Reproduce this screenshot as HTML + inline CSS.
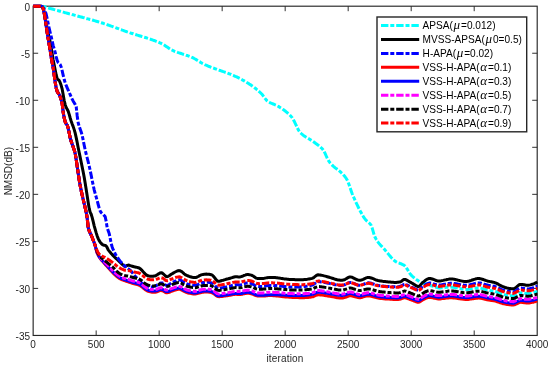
<!DOCTYPE html>
<html><head><meta charset="utf-8"><title>NMSD plot</title>
<style>html,body{margin:0;padding:0;background:#fff}svg{display:block}</style></head>
<body>
<svg width="550" height="366" viewBox="0 0 550 366">
<rect width="550" height="366" fill="#fff"/>
<g stroke="#262626" stroke-width="1.15" fill="none">
<rect x="33.15" y="6.2" width="504.05" height="329.25"/>
<path stroke-width="0.95" d="M96.16 335.45 v-5 M96.16 6.2 v5"/>
<path stroke-width="0.95" d="M159.16 335.45 v-5 M159.16 6.2 v5"/>
<path stroke-width="0.95" d="M222.17 335.45 v-5 M222.17 6.2 v5"/>
<path stroke-width="0.95" d="M285.18 335.45 v-5 M285.18 6.2 v5"/>
<path stroke-width="0.95" d="M348.18 335.45 v-5 M348.18 6.2 v5"/>
<path stroke-width="0.95" d="M411.19 335.45 v-5 M411.19 6.2 v5"/>
<path stroke-width="0.95" d="M474.19 335.45 v-5 M474.19 6.2 v5"/>
<path stroke-width="0.95" d="M33.15 53.24 h5 M537.2 53.24 h-5"/>
<path stroke-width="0.95" d="M33.15 100.27 h5 M537.2 100.27 h-5"/>
<path stroke-width="0.95" d="M33.15 147.31 h5 M537.2 147.31 h-5"/>
<path stroke-width="0.95" d="M33.15 194.34 h5 M537.2 194.34 h-5"/>
<path stroke-width="0.95" d="M33.15 241.38 h5 M537.2 241.38 h-5"/>
<path stroke-width="0.95" d="M33.15 288.41 h5 M537.2 288.41 h-5"/>
</g>
<clipPath id="c"><rect x="32.55" y="4.2" width="505.25" height="331.25"/></clipPath>
<g clip-path="url(#c)" fill="none" stroke-linejoin="round">
<path d="M33.2 6.2 L34.2 6.2 L35.2 6.2 L36.2 6.2 L37.2 6.2 L38.2 6.2 L39.2 6.2 L40.2 6.2 L41.2 6.2 L42.2 6.2 L43.2 6.4 L44.2 6.8 L45.2 7.0 L46.2 7.3 L47.2 7.6 L48.2 7.9 L49.2 8.2 L50.2 8.5 L51.2 8.7 L52.2 9.0 L53.2 9.3 L54.2 9.6 L55.2 9.9 L56.2 10.2 L57.2 10.4 L58.2 10.7 L59.2 11.0 L60.2 11.3 L61.2 11.6 L62.2 11.8 L63.2 12.1 L64.2 12.4 L65.2 12.7 L66.2 12.9 L67.2 13.2 L68.2 13.5 L69.2 13.8 L70.2 14.0 L71.2 14.3 L72.2 14.6 L73.2 14.8 L74.2 15.1 L75.2 15.4 L76.2 15.7 L77.2 15.9 L78.2 16.2 L79.2 16.5 L80.2 16.8 L81.2 17.0 L82.2 17.3 L83.2 17.6 L84.2 17.8 L85.2 18.1 L86.2 18.4 L87.2 18.7 L88.2 18.9 L89.2 19.2 L90.2 19.5 L91.2 19.7 L92.2 20.0 L93.2 20.3 L94.2 20.6 L95.2 20.9 L96.2 21.2 L97.2 21.5 L98.2 21.8 L99.2 22.1 L100.2 22.4 L101.2 22.7 L102.2 23.0 L103.2 23.3 L104.2 23.7 L105.2 24.0 L106.2 24.3 L107.2 24.7 L108.2 25.0 L109.2 25.4 L110.2 25.7 L111.2 26.1 L112.2 26.4 L113.2 26.8 L114.2 27.2 L115.2 27.5 L116.2 27.9 L117.2 28.3 L118.2 28.6 L119.2 29.0 L120.2 29.4 L121.2 29.7 L122.2 30.1 L123.2 30.4 L124.2 30.8 L125.2 31.2 L126.2 31.5 L127.2 31.9 L128.2 32.2 L129.2 32.5 L130.2 32.9 L131.2 33.2 L132.2 33.5 L133.2 33.8 L134.2 34.2 L135.2 34.5 L136.2 34.8 L137.2 35.1 L138.2 35.4 L139.2 35.7 L140.2 36.0 L141.2 36.3 L142.2 36.6 L143.2 36.9 L144.2 37.2 L145.2 37.5 L146.2 37.8 L147.2 38.1 L148.2 38.4 L149.2 38.8 L150.2 39.1 L151.2 39.5 L152.2 39.8 L153.2 40.2 L154.2 40.5 L155.2 40.9 L156.2 41.3 L157.2 41.7 L158.2 42.1 L159.2 42.5 L160.2 43.0 L161.2 43.4 L162.2 43.9 L163.2 44.4 L164.2 45.0 L165.2 45.7 L166.2 46.4 L167.2 47.1 L168.2 47.8 L169.2 48.5 L170.2 49.2 L171.2 49.7 L172.2 50.2 L173.2 50.6 L174.2 51.1 L175.2 51.5 L176.2 51.8 L177.2 52.2 L178.2 52.6 L179.2 52.9 L180.2 53.2 L181.2 53.5 L182.2 53.9 L183.2 54.2 L184.2 54.5 L185.2 54.8 L186.2 55.2 L187.2 55.5 L188.2 55.9 L189.2 56.2 L190.2 56.6 L191.2 57.0 L192.2 57.5 L193.2 57.9 L194.2 58.5 L195.2 59.0 L196.2 59.6 L197.2 60.2 L198.2 60.8 L199.2 61.5 L200.2 62.1 L201.2 62.7 L202.2 63.3 L203.2 63.8 L204.2 64.3 L205.2 64.8 L206.2 65.2 L207.2 65.6 L208.2 66.1 L209.2 66.5 L210.2 66.9 L211.2 67.3 L212.2 67.7 L213.2 68.0 L214.2 68.4 L215.2 68.8 L216.2 69.1 L217.2 69.5 L218.2 69.8 L219.2 70.2 L220.2 70.5 L221.2 70.9 L222.2 71.2 L223.2 71.6 L224.2 71.9 L225.2 72.3 L226.2 72.6 L227.2 73.0 L228.2 73.4 L229.2 73.8 L230.2 74.1 L231.2 74.5 L232.2 75.0 L233.2 75.4 L234.2 75.8 L235.2 76.3 L236.2 76.7 L237.2 77.2 L238.2 77.7 L239.2 78.2 L240.2 78.7 L241.2 79.2 L242.2 79.8 L243.2 80.3 L244.2 80.9 L245.2 81.5 L246.2 82.1 L247.2 82.7 L248.2 83.3 L249.2 84.0 L250.2 84.6 L251.2 85.3 L252.2 86.0 L253.2 86.7 L254.2 87.5 L255.2 88.2 L256.2 89.0 L257.2 89.9 L258.2 90.7 L259.2 91.6 L260.2 92.5 L261.2 93.5 L262.2 94.5 L263.2 95.8 L264.2 97.2 L265.2 98.6 L266.2 99.9 L267.2 100.9 L268.2 101.6 L269.2 102.2 L270.2 102.8 L271.2 103.2 L272.2 103.6 L273.2 104.0 L274.2 104.4 L275.2 104.9 L276.2 105.3 L277.2 105.8 L278.2 106.3 L279.2 106.9 L280.2 107.6 L281.2 108.2 L282.2 108.9 L283.2 109.6 L284.2 110.3 L285.2 111.0 L286.2 111.8 L287.2 112.7 L288.2 113.6 L289.2 114.5 L290.2 115.5 L291.2 116.6 L292.2 117.8 L293.2 119.3 L294.2 121.2 L295.2 123.3 L296.2 125.4 L297.2 127.6 L298.2 129.6 L299.2 131.2 L300.2 132.5 L301.2 133.5 L302.2 134.4 L303.2 135.2 L304.2 135.9 L305.2 136.6 L306.2 137.2 L307.2 137.8 L308.2 138.4 L309.2 139.0 L310.2 139.6 L311.2 140.2 L312.2 140.8 L313.2 141.5 L314.2 142.3 L315.2 143.0 L316.2 143.8 L317.2 144.5 L318.2 145.2 L319.2 146.0 L320.2 146.9 L321.2 147.8 L322.2 148.8 L323.2 150.0 L324.2 151.6 L325.2 153.7 L326.2 156.0 L327.2 158.2 L328.2 160.2 L329.2 161.7 L330.2 163.0 L331.2 164.1 L332.2 165.1 L333.2 166.1 L334.2 167.0 L335.2 167.8 L336.2 168.6 L337.2 169.3 L338.2 170.1 L339.2 170.9 L340.2 171.7 L341.2 172.6 L342.2 173.5 L343.2 174.5 L344.2 175.7 L345.2 177.0 L346.2 178.4 L347.2 180.1 L348.2 182.4 L349.2 185.1 L350.2 188.0 L351.2 190.9 L352.2 193.7 L353.2 196.2 L354.2 198.4 L355.2 200.6 L356.2 202.8 L357.2 204.9 L358.2 207.0 L359.2 209.0 L360.2 211.0 L361.2 212.8 L362.2 214.6 L363.2 216.3 L364.2 217.8 L365.2 219.2 L366.2 220.4 L367.2 221.3 L368.2 222.1 L369.2 223.0 L370.2 224.0 L371.2 225.4 L372.2 228.1 L373.2 231.6 L374.2 235.1 L375.2 237.6 L376.2 239.3 L377.2 240.9 L378.2 242.3 L379.2 243.6 L380.2 244.8 L381.2 245.9 L382.2 246.9 L383.2 248.0 L384.2 249.1 L385.2 250.2 L386.2 251.4 L387.2 252.7 L388.2 253.9 L389.2 255.1 L390.2 256.3 L391.2 257.5 L392.2 258.6 L393.2 259.6 L394.2 260.5 L395.2 261.2 L396.2 261.9 L397.2 262.4 L398.2 262.8 L399.2 263.1 L400.2 263.5 L401.2 263.8 L402.2 264.3 L403.2 264.8 L404.2 265.4 L405.2 266.2 L406.2 267.5 L407.2 269.1 L408.2 270.8 L409.2 272.5 L410.2 274.0 L411.2 275.1 L412.2 276.1 L413.2 277.0 L414.2 277.8 L415.2 278.6 L416.2 279.4 L417.2 280.1 L418.2 280.8 L419.2 281.5 L420.2 282.2 L421.2 282.8 L422.2 283.1 L423.2 283.4 L424.2 283.6 L425.2 283.8 L426.2 284.0 L427.2 284.3 L428.2 284.6 L429.2 285.0 L430.2 285.5 L431.2 285.8 L432.2 286.1 L433.2 286.4 L434.2 286.7 L435.2 287.1 L436.2 287.4 L437.2 287.6 L438.2 287.8 L439.2 287.9 L440.2 287.9 L441.2 287.8 L442.2 287.7 L443.2 287.6 L444.2 287.5 L445.2 287.4 L446.2 287.3 L447.2 287.2 L448.2 287.1 L449.2 287.1 L450.2 287.1 L451.2 287.1 L452.2 287.2 L453.2 287.3 L454.2 287.4 L455.2 287.6 L456.2 287.8 L457.2 288.0 L458.2 288.2 L459.2 288.4 L460.2 288.6 L461.2 288.8 L462.2 289.0 L463.2 289.2 L464.2 289.3 L465.2 289.4 L466.2 289.4 L467.2 289.4 L468.2 289.4 L469.2 289.2 L470.2 289.1 L471.2 288.9 L472.2 288.7 L473.2 288.6 L474.2 288.4 L475.2 288.2 L476.2 288.1 L477.2 288.1 L478.2 288.0 L479.2 288.0 L480.2 288.1 L481.2 288.3 L482.2 288.6 L483.2 288.8 L484.2 289.1 L485.2 289.4 L486.2 289.7 L487.2 290.0 L488.2 290.2 L489.2 290.4 L490.2 290.6 L491.2 290.7 L492.2 290.9 L493.2 291.0 L494.2 291.2 L495.2 291.5 L496.2 291.8 L497.2 292.1 L498.2 292.5 L499.2 292.9 L500.2 293.3 L501.2 293.7 L502.2 294.0 L503.2 294.3 L504.2 294.6 L505.2 294.8 L506.2 295.1 L507.2 295.3 L508.2 295.4 L509.2 295.6 L510.2 295.7 L511.2 295.8 L512.2 295.8 L513.2 295.7 L514.2 295.6 L515.2 295.4 L516.2 294.9 L517.2 294.1 L518.2 293.6 L519.2 293.2 L520.2 292.9 L521.2 292.8 L522.2 292.9 L523.2 293.0 L524.2 293.1 L525.2 293.3 L526.2 293.4 L527.2 293.5 L528.2 293.4 L529.2 293.3 L530.2 293.2 L531.2 293.1 L532.2 292.8 L533.2 292.6 L534.2 292.3 L535.2 292.0 L536.2 291.6 L537.2 291.2 L537.3 291.2" stroke="#00ffff" stroke-width="3.0" stroke-dasharray="7.4 1.9 4 1.9"/>
<path d="M33.2 6.2 L34.2 6.2 L35.2 6.2 L36.2 6.2 L37.2 6.2 L38.2 6.2 L39.2 6.2 L40.2 6.2 L41.2 6.2 L42.2 6.7 L43.2 8.6 L44.2 12.6 L45.2 17.6 L46.2 23.1 L47.2 28.5 L48.2 33.1 L49.2 37.3 L50.2 42.0 L51.2 47.6 L52.2 53.9 L53.2 60.0 L54.2 65.0 L55.2 70.0 L56.2 75.0 L57.2 78.7 L58.2 79.8 L59.2 80.5 L60.2 82.7 L61.2 85.6 L62.2 89.2 L63.2 94.7 L64.2 100.5 L65.2 104.6 L66.2 107.6 L67.2 109.3 L68.2 111.2 L69.2 114.4 L70.2 118.0 L71.2 121.2 L72.2 124.0 L73.2 126.6 L74.2 129.6 L75.2 133.2 L76.2 137.6 L77.2 142.5 L78.2 147.7 L79.2 152.6 L80.2 157.4 L81.2 162.3 L82.2 167.1 L83.2 172.0 L84.2 177.3 L85.2 183.3 L86.2 189.6 L87.2 196.1 L88.2 202.5 L89.2 208.4 L90.2 212.4 L91.2 214.3 L92.2 217.6 L93.2 221.7 L94.2 225.8 L95.2 229.4 L96.2 232.9 L97.2 236.0 L98.2 238.6 L99.2 240.7 L100.2 242.2 L101.2 243.4 L102.2 244.4 L103.2 245.0 L104.2 245.2 L105.2 245.4 L106.2 246.0 L107.2 247.6 L108.2 249.9 L109.2 251.1 L110.2 252.3 L111.2 253.5 L112.2 254.6 L113.2 255.6 L114.2 256.6 L115.2 257.6 L116.2 258.6 L117.2 259.5 L118.2 260.5 L119.2 261.5 L120.2 262.5 L121.2 263.4 L122.2 264.3 L123.2 265.2 L124.2 266.0 L125.2 266.4 L126.2 266.0 L127.2 265.4 L128.2 265.1 L129.2 265.2 L130.2 265.6 L131.2 265.9 L132.2 266.2 L133.2 266.5 L134.2 266.8 L135.2 267.0 L136.2 267.2 L137.2 267.4 L138.2 267.7 L139.2 268.0 L140.2 268.7 L141.2 269.6 L142.2 270.6 L143.2 271.8 L144.2 272.9 L145.2 273.9 L146.2 274.8 L147.2 275.5 L148.2 275.8 L149.2 276.1 L150.2 276.3 L151.2 276.3 L152.2 276.3 L153.2 276.2 L154.2 276.0 L155.2 275.9 L156.2 275.4 L157.2 274.8 L158.2 274.1 L159.2 273.5 L160.2 272.9 L161.2 272.7 L162.2 273.0 L163.2 273.8 L164.2 274.8 L165.2 275.8 L166.2 276.5 L167.2 276.7 L168.2 276.3 L169.2 275.7 L170.2 275.0 L171.2 274.3 L172.2 273.7 L173.2 273.1 L174.2 272.5 L175.2 272.0 L176.2 271.5 L177.2 271.0 L178.2 270.7 L179.2 270.6 L180.2 270.8 L181.2 271.3 L182.2 272.0 L183.2 272.9 L184.2 273.8 L185.2 274.6 L186.2 275.2 L187.2 275.6 L188.2 276.0 L189.2 276.4 L190.2 276.7 L191.2 277.0 L192.2 277.3 L193.2 277.4 L194.2 277.5 L195.2 277.5 L196.2 277.4 L197.2 277.0 L198.2 276.5 L199.2 275.9 L200.2 275.3 L201.2 274.9 L202.2 274.6 L203.2 274.4 L204.2 274.3 L205.2 274.2 L206.2 274.1 L207.2 274.2 L208.2 274.2 L209.2 274.3 L210.2 274.5 L211.2 274.7 L212.2 275.1 L213.2 276.0 L214.2 277.2 L215.2 278.5 L216.2 279.8 L217.2 280.8 L218.2 281.3 L219.2 281.2 L220.2 281.0 L221.2 280.7 L222.2 280.4 L223.2 280.2 L224.2 279.9 L225.2 279.6 L226.2 279.3 L227.2 279.0 L228.2 278.8 L229.2 278.5 L230.2 278.2 L231.2 277.9 L232.2 277.6 L233.2 277.3 L234.2 277.0 L235.2 276.8 L236.2 276.7 L237.2 276.8 L238.2 276.9 L239.2 276.9 L240.2 276.9 L241.2 276.6 L242.2 276.3 L243.2 275.9 L244.2 275.4 L245.2 275.1 L246.2 274.7 L247.2 274.6 L248.2 274.6 L249.2 274.7 L250.2 274.9 L251.2 275.1 L252.2 275.5 L253.2 276.0 L254.2 276.8 L255.2 277.5 L256.2 278.1 L257.2 278.4 L258.2 278.5 L259.2 278.6 L260.2 278.6 L261.2 278.6 L262.2 278.5 L263.2 278.4 L264.2 278.3 L265.2 278.1 L266.2 277.9 L267.2 277.7 L268.2 277.6 L269.2 277.4 L270.2 277.4 L271.2 277.4 L272.2 277.4 L273.2 277.5 L274.2 277.5 L275.2 277.6 L276.2 277.7 L277.2 277.8 L278.2 277.9 L279.2 278.1 L280.2 278.2 L281.2 278.4 L282.2 278.5 L283.2 278.7 L284.2 278.9 L285.2 279.0 L286.2 279.1 L287.2 279.2 L288.2 279.3 L289.2 279.4 L290.2 279.4 L291.2 279.5 L292.2 279.6 L293.2 279.6 L294.2 279.6 L295.2 279.7 L296.2 279.7 L297.2 279.7 L298.2 279.8 L299.2 279.8 L300.2 279.8 L301.2 279.8 L302.2 279.8 L303.2 279.7 L304.2 279.6 L305.2 279.5 L306.2 279.4 L307.2 279.3 L308.2 279.1 L309.2 279.0 L310.2 278.8 L311.2 278.6 L312.2 278.4 L313.2 277.9 L314.2 277.2 L315.2 276.4 L316.2 275.6 L317.2 275.0 L318.2 274.8 L319.2 274.9 L320.2 275.0 L321.2 275.2 L322.2 275.4 L323.2 275.6 L324.2 275.9 L325.2 276.1 L326.2 276.4 L327.2 276.7 L328.2 277.0 L329.2 277.3 L330.2 277.6 L331.2 277.9 L332.2 278.2 L333.2 278.5 L334.2 278.9 L335.2 279.2 L336.2 279.5 L337.2 279.8 L338.2 280.0 L339.2 280.1 L340.2 280.2 L341.2 280.2 L342.2 280.2 L343.2 280.1 L344.2 279.8 L345.2 279.3 L346.2 278.7 L347.2 278.1 L348.2 277.5 L349.2 277.1 L350.2 277.0 L351.2 277.1 L352.2 277.3 L353.2 277.8 L354.2 278.3 L355.2 278.8 L356.2 279.3 L357.2 279.8 L358.2 280.1 L359.2 280.3 L360.2 280.2 L361.2 280.0 L362.2 279.7 L363.2 279.3 L364.2 278.8 L365.2 278.3 L366.2 277.9 L367.2 277.6 L368.2 277.5 L369.2 277.5 L370.2 277.7 L371.2 278.0 L372.2 278.3 L373.2 278.7 L374.2 279.1 L375.2 279.6 L376.2 280.0 L377.2 280.3 L378.2 280.6 L379.2 280.8 L380.2 281.0 L381.2 281.1 L382.2 281.2 L383.2 281.4 L384.2 281.5 L385.2 281.6 L386.2 281.7 L387.2 281.8 L388.2 281.9 L389.2 282.0 L390.2 282.1 L391.2 282.2 L392.2 282.3 L393.2 282.3 L394.2 282.4 L395.2 282.4 L396.2 282.4 L397.2 282.3 L398.2 282.2 L399.2 282.1 L400.2 282.0 L401.2 281.5 L402.2 280.7 L403.2 279.9 L404.2 279.4 L405.2 279.4 L406.2 279.9 L407.2 280.4 L408.2 281.0 L409.2 281.6 L410.2 282.2 L411.2 282.7 L412.2 283.3 L413.2 283.9 L414.2 284.5 L415.2 285.1 L416.2 285.7 L417.2 286.3 L418.2 286.6 L419.2 286.3 L420.2 285.3 L421.2 284.1 L422.2 282.9 L423.2 282.1 L424.2 281.3 L425.2 280.5 L426.2 279.8 L427.2 279.2 L428.2 278.8 L429.2 278.5 L430.2 278.5 L431.2 278.7 L432.2 279.0 L433.2 279.3 L434.2 279.7 L435.2 280.1 L436.2 280.5 L437.2 280.8 L438.2 281.0 L439.2 281.0 L440.2 280.9 L441.2 280.8 L442.2 280.6 L443.2 280.4 L444.2 280.1 L445.2 279.9 L446.2 279.7 L447.2 279.4 L448.2 279.3 L449.2 279.1 L450.2 279.0 L451.2 279.0 L452.2 279.0 L453.2 279.1 L454.2 279.3 L455.2 279.5 L456.2 279.7 L457.2 279.9 L458.2 280.2 L459.2 280.4 L460.2 280.7 L461.2 280.9 L462.2 281.1 L463.2 281.3 L464.2 281.4 L465.2 281.5 L466.2 281.5 L467.2 281.4 L468.2 281.2 L469.2 281.0 L470.2 280.7 L471.2 280.4 L472.2 280.0 L473.2 279.7 L474.2 279.4 L475.2 279.1 L476.2 278.8 L477.2 278.6 L478.2 278.5 L479.2 278.5 L480.2 278.7 L481.2 278.9 L482.2 279.2 L483.2 279.5 L484.2 279.9 L485.2 280.2 L486.2 280.6 L487.2 280.9 L488.2 281.2 L489.2 281.4 L490.2 281.6 L491.2 281.8 L492.2 282.0 L493.2 282.2 L494.2 282.4 L495.2 282.8 L496.2 283.2 L497.2 283.7 L498.2 284.2 L499.2 284.8 L500.2 285.3 L501.2 285.8 L502.2 286.3 L503.2 286.7 L504.2 287.1 L505.2 287.5 L506.2 287.8 L507.2 288.1 L508.2 288.3 L509.2 288.5 L510.2 288.6 L511.2 288.7 L512.2 288.8 L513.2 288.8 L514.2 288.7 L515.2 288.2 L516.2 287.3 L517.2 286.4 L518.2 285.5 L519.2 284.8 L520.2 284.5 L521.2 284.4 L522.2 284.5 L523.2 284.6 L524.2 284.8 L525.2 285.0 L526.2 285.2 L527.2 285.3 L528.2 285.3 L529.2 285.1 L530.2 284.9 L531.2 284.6 L532.2 284.3 L533.2 284.0 L534.2 283.6 L535.2 283.1 L536.2 282.6 L537.2 282.1 L537.3 282.0" stroke="#000000" stroke-width="3.0"/>
<path d="M33.2 6.2 L34.2 6.2 L35.2 6.2 L36.2 6.2 L37.2 6.2 L38.2 6.2 L39.2 6.2 L40.2 6.2 L41.2 6.2 L42.2 6.6 L43.2 7.6 L44.2 9.1 L45.2 11.2 L46.2 14.3 L47.2 18.8 L48.2 23.8 L49.2 28.4 L50.2 32.6 L51.2 36.7 L52.2 41.1 L53.2 45.6 L54.2 48.8 L55.2 52.4 L56.2 56.8 L57.2 60.6 L58.2 62.6 L59.2 63.5 L60.2 64.6 L61.2 67.0 L62.2 70.9 L63.2 75.3 L64.2 79.5 L65.2 82.8 L66.2 85.4 L67.2 87.8 L68.2 90.2 L69.2 92.5 L70.2 94.7 L71.2 97.0 L72.2 99.2 L73.2 101.2 L74.2 102.8 L75.2 104.5 L76.2 106.6 L77.2 116.0 L78.2 122.9 L79.2 126.3 L80.2 129.2 L81.2 132.0 L82.2 135.5 L83.2 140.1 L84.2 145.3 L85.2 150.0 L86.2 154.1 L87.2 158.0 L88.2 161.9 L89.2 166.0 L90.2 170.5 L91.2 175.4 L92.2 180.5 L93.2 185.3 L94.2 189.8 L95.2 193.6 L96.2 197.2 L97.2 200.7 L98.2 204.5 L99.2 208.2 L100.2 211.0 L101.2 212.6 L102.2 213.5 L103.2 214.4 L104.2 215.5 L105.2 216.7 L106.2 221.5 L107.2 227.8 L108.2 230.7 L109.2 233.5 L110.2 238.3 L111.2 243.7 L112.2 247.0 L113.2 249.7 L114.2 251.8 L115.2 253.7 L116.2 255.5 L117.2 257.1 L118.2 258.5 L119.2 259.8 L120.2 261.1 L121.2 262.3 L122.2 263.4 L123.2 264.5 L124.2 265.5 L125.2 266.4 L126.2 267.4 L127.2 268.2 L128.2 268.8 L129.2 269.5 L130.2 270.3 L131.2 271.3 L132.2 272.5 L133.2 273.8 L134.2 275.0 L135.2 276.2 L136.2 277.3 L137.2 278.5 L138.2 279.6 L139.2 280.6 L140.2 281.6 L141.2 282.5 L142.2 283.4 L143.2 284.1 L144.2 284.9 L145.2 285.6 L146.2 286.2 L147.2 286.7 L148.2 286.9 L149.2 287.0 L150.2 287.0 L151.2 286.9 L152.2 286.8 L153.2 286.6 L154.2 286.4 L155.2 286.1 L156.2 285.7 L157.2 285.0 L158.2 284.3 L159.2 283.7 L160.2 283.2 L161.2 282.9 L162.2 282.9 L163.2 283.5 L164.2 284.3 L165.2 284.9 L166.2 285.2 L167.2 285.4 L168.2 285.1 L169.2 284.5 L170.2 283.8 L171.2 283.2 L172.2 282.6 L173.2 282.1 L174.2 281.6 L175.2 281.1 L176.2 280.7 L177.2 280.2 L178.2 279.9 L179.2 279.8 L180.2 280.0 L181.2 280.5 L182.2 281.1 L183.2 281.7 L184.2 282.4 L185.2 283.1 L186.2 283.6 L187.2 284.0 L188.2 284.3 L189.2 284.5 L190.2 284.7 L191.2 285.0 L192.2 285.2 L193.2 285.3 L194.2 285.3 L195.2 285.2 L196.2 285.0 L197.2 284.7 L198.2 284.3 L199.2 283.8 L200.2 283.2 L201.2 282.9 L202.2 282.6 L203.2 282.5 L204.2 282.4 L205.2 282.3 L206.2 282.3 L207.2 282.3 L208.2 282.3 L209.2 282.4 L210.2 282.6 L211.2 282.8 L212.2 283.2 L213.2 283.8 L214.2 284.9 L215.2 286.1 L216.2 287.1 L217.2 287.8 L218.2 288.4 L219.2 288.4 L220.2 288.2 L221.2 288.0 L222.2 287.8 L223.2 287.6 L224.2 287.3 L225.2 287.1 L226.2 286.9 L227.2 286.7 L228.2 286.4 L229.2 286.2 L230.2 285.9 L231.2 285.7 L232.2 285.4 L233.2 285.2 L234.2 285.0 L235.2 284.8 L236.2 284.8 L237.2 284.8 L238.2 284.8 L239.2 284.9 L240.2 284.9 L241.2 284.7 L242.2 284.4 L243.2 284.1 L244.2 283.8 L245.2 283.4 L246.2 283.1 L247.2 283.0 L248.2 283.0 L249.2 283.1 L250.2 283.2 L251.2 283.5 L252.2 283.8 L253.2 284.4 L254.2 285.0 L255.2 285.6 L256.2 286.0 L257.2 286.3 L258.2 286.4 L259.2 286.5 L260.2 286.5 L261.2 286.4 L262.2 286.4 L263.2 286.3 L264.2 286.2 L265.2 286.0 L266.2 285.8 L267.2 285.7 L268.2 285.5 L269.2 285.4 L270.2 285.4 L271.2 285.4 L272.2 285.4 L273.2 285.4 L274.2 285.5 L275.2 285.5 L276.2 285.6 L277.2 285.7 L278.2 285.8 L279.2 285.9 L280.2 286.0 L281.2 286.1 L282.2 286.3 L283.2 286.4 L284.2 286.5 L285.2 286.6 L286.2 286.7 L287.2 286.8 L288.2 286.9 L289.2 287.0 L290.2 287.0 L291.2 287.0 L292.2 287.0 L293.2 287.0 L294.2 287.0 L295.2 287.0 L296.2 287.0 L297.2 287.0 L298.2 286.9 L299.2 286.9 L300.2 286.9 L301.2 286.8 L302.2 286.8 L303.2 286.7 L304.2 286.5 L305.2 286.4 L306.2 286.3 L307.2 286.1 L308.2 285.9 L309.2 285.8 L310.2 285.6 L311.2 285.4 L312.2 285.1 L313.2 284.6 L314.2 283.9 L315.2 283.3 L316.2 282.7 L317.2 282.1 L318.2 281.7 L319.2 281.7 L320.2 281.8 L321.2 282.0 L322.2 282.1 L323.2 282.3 L324.2 282.4 L325.2 282.6 L326.2 282.8 L327.2 283.0 L328.2 283.2 L329.2 283.4 L330.2 283.6 L331.2 283.8 L332.2 284.0 L333.2 284.2 L334.2 284.5 L335.2 284.7 L336.2 284.9 L337.2 285.1 L338.2 285.2 L339.2 285.3 L340.2 285.4 L341.2 285.4 L342.2 285.3 L343.2 285.1 L344.2 284.9 L345.2 284.5 L346.2 284.0 L347.2 283.4 L348.2 283.0 L349.2 282.7 L350.2 282.5 L351.2 282.6 L352.2 282.8 L353.2 283.2 L354.2 283.6 L355.2 284.0 L356.2 284.5 L357.2 284.9 L358.2 285.2 L359.2 285.3 L360.2 285.2 L361.2 285.0 L362.2 284.7 L363.2 284.4 L364.2 284.0 L365.2 283.6 L366.2 283.2 L367.2 283.0 L368.2 282.8 L369.2 282.9 L370.2 283.0 L371.2 283.2 L372.2 283.6 L373.2 283.9 L374.2 284.3 L375.2 284.6 L376.2 284.9 L377.2 285.2 L378.2 285.5 L379.2 285.6 L380.2 285.8 L381.2 285.9 L382.2 286.0 L383.2 286.1 L384.2 286.2 L385.2 286.3 L386.2 286.4 L387.2 286.5 L388.2 286.5 L389.2 286.6 L390.2 286.7 L391.2 286.7 L392.2 286.8 L393.2 286.8 L394.2 286.8 L395.2 286.8 L396.2 286.8 L397.2 286.8 L398.2 286.7 L399.2 286.5 L400.2 286.2 L401.2 285.8 L402.2 285.4 L403.2 284.8 L404.2 284.3 L405.2 284.2 L406.2 284.5 L407.2 285.0 L408.2 285.5 L409.2 286.0 L410.2 286.5 L411.2 287.0 L412.2 287.5 L413.2 287.9 L414.2 288.4 L415.2 288.9 L416.2 289.4 L417.2 289.9 L418.2 290.0 L419.2 289.7 L420.2 289.1 L421.2 288.1 L422.2 287.0 L423.2 286.2 L424.2 285.5 L425.2 284.9 L426.2 284.3 L427.2 283.8 L428.2 283.4 L429.2 283.1 L430.2 283.1 L431.2 283.2 L432.2 283.5 L433.2 283.8 L434.2 284.1 L435.2 284.4 L436.2 284.7 L437.2 284.9 L438.2 285.1 L439.2 285.1 L440.2 285.0 L441.2 284.9 L442.2 284.7 L443.2 284.5 L444.2 284.3 L445.2 284.1 L446.2 283.9 L447.2 283.7 L448.2 283.5 L449.2 283.4 L450.2 283.3 L451.2 283.3 L452.2 283.3 L453.2 283.4 L454.2 283.5 L455.2 283.6 L456.2 283.8 L457.2 284.0 L458.2 284.2 L459.2 284.4 L460.2 284.6 L461.2 284.8 L462.2 285.0 L463.2 285.1 L464.2 285.2 L465.2 285.3 L466.2 285.3 L467.2 285.3 L468.2 285.1 L469.2 284.9 L470.2 284.7 L471.2 284.4 L472.2 284.1 L473.2 283.9 L474.2 283.6 L475.2 283.4 L476.2 283.2 L477.2 283.0 L478.2 282.9 L479.2 282.9 L480.2 283.0 L481.2 283.2 L482.2 283.5 L483.2 283.7 L484.2 284.1 L485.2 284.4 L486.2 284.7 L487.2 284.9 L488.2 285.2 L489.2 285.4 L490.2 285.6 L491.2 285.7 L492.2 285.9 L493.2 286.1 L494.2 286.3 L495.2 286.6 L496.2 287.0 L497.2 287.4 L498.2 287.9 L499.2 288.3 L500.2 288.8 L501.2 289.3 L502.2 289.7 L503.2 290.0 L504.2 290.4 L505.2 290.7 L506.2 290.9 L507.2 291.2 L508.2 291.3 L509.2 291.5 L510.2 291.7 L511.2 291.8 L512.2 291.8 L513.2 291.8 L514.2 291.6 L515.2 291.1 L516.2 290.6 L517.2 289.8 L518.2 289.0 L519.2 288.4 L520.2 288.2 L521.2 288.1 L522.2 288.2 L523.2 288.3 L524.2 288.5 L525.2 288.7 L526.2 288.8 L527.2 288.9 L528.2 288.9 L529.2 288.8 L530.2 288.6 L531.2 288.3 L532.2 288.1 L533.2 287.8 L534.2 287.4 L535.2 287.1 L536.2 286.6 L537.2 286.1 L537.3 286.1" stroke="#0000ff" stroke-width="3.0" stroke-dasharray="7.4 1.9 4 1.9"/>
<path d="M33.2 6.2 L34.2 6.2 L35.2 6.2 L36.2 6.2 L37.2 6.2 L38.2 6.2 L39.2 6.2 L40.2 6.2 L41.2 6.2 L42.2 6.7 L43.2 8.6 L44.2 12.9 L45.2 19.0 L46.2 26.1 L47.2 32.8 L48.2 38.8 L49.2 44.7 L50.2 50.7 L51.2 57.3 L52.2 62.8 L53.2 67.7 L54.2 75.2 L55.2 82.2 L56.2 88.1 L57.2 91.5 L58.2 93.1 L59.2 94.5 L60.2 96.9 L61.2 100.0 L62.2 104.0 L63.2 112.2 L64.2 117.9 L65.2 121.9 L66.2 123.9 L67.2 125.2 L68.2 128.1 L69.2 133.0 L70.2 138.0 L71.2 141.5 L72.2 144.2 L73.2 147.1 L74.2 149.9 L75.2 153.6 L76.2 159.6 L77.2 166.4 L78.2 173.3 L79.2 180.0 L80.2 185.7 L81.2 190.6 L82.2 195.1 L83.2 199.5 L84.2 203.7 L85.2 207.8 L86.2 212.3 L87.2 218.1 L88.2 227.5 L89.2 230.9 L90.2 233.1 L91.2 235.2 L92.2 237.5 L93.2 240.1 L94.2 242.8 L95.2 245.6 L96.2 249.7 L97.2 253.0 L98.2 255.1 L99.2 256.9 L100.2 258.5 L101.2 259.8 L102.2 260.9 L103.2 262.1 L104.2 263.2 L105.2 264.4 L106.2 265.5 L107.2 266.6 L108.2 267.7 L109.2 268.8 L110.2 269.9 L111.2 271.0 L112.2 272.1 L113.2 273.2 L114.2 274.2 L115.2 275.1 L116.2 276.0 L117.2 276.8 L118.2 277.6 L119.2 278.3 L120.2 278.8 L121.2 279.4 L122.2 279.8 L123.2 280.2 L124.2 280.6 L125.2 280.9 L126.2 281.2 L127.2 281.5 L128.2 281.9 L129.2 282.2 L130.2 282.5 L131.2 282.9 L132.2 283.2 L133.2 283.5 L134.2 283.8 L135.2 284.1 L136.2 284.4 L137.2 284.6 L138.2 284.9 L139.2 285.2 L140.2 285.7 L141.2 286.4 L142.2 287.2 L143.2 288.0 L144.2 288.9 L145.2 289.7 L146.2 290.3 L147.2 290.9 L148.2 291.3 L149.2 291.6 L150.2 291.8 L151.2 292.0 L152.2 292.2 L153.2 292.3 L154.2 292.3 L155.2 292.2 L156.2 292.0 L157.2 291.7 L158.2 291.3 L159.2 290.9 L160.2 290.6 L161.2 290.5 L162.2 290.7 L163.2 291.0 L164.2 291.6 L165.2 292.4 L166.2 292.7 L167.2 292.7 L168.2 292.6 L169.2 292.3 L170.2 291.8 L171.2 291.4 L172.2 291.0 L173.2 290.7 L174.2 290.3 L175.2 290.0 L176.2 289.7 L177.2 289.5 L178.2 289.3 L179.2 289.2 L180.2 289.4 L181.2 289.8 L182.2 290.3 L183.2 290.9 L184.2 291.4 L185.2 291.9 L186.2 292.3 L187.2 292.7 L188.2 293.0 L189.2 293.2 L190.2 293.4 L191.2 293.6 L192.2 293.8 L193.2 293.9 L194.2 294.0 L195.2 294.1 L196.2 293.9 L197.2 293.6 L198.2 293.3 L199.2 293.1 L200.2 292.8 L201.2 292.5 L202.2 292.3 L203.2 292.2 L204.2 292.1 L205.2 292.1 L206.2 292.1 L207.2 292.1 L208.2 292.1 L209.2 292.2 L210.2 292.3 L211.2 292.5 L212.2 292.9 L213.2 293.4 L214.2 294.0 L215.2 294.8 L216.2 295.7 L217.2 296.3 L218.2 296.6 L219.2 296.7 L220.2 296.6 L221.2 296.5 L222.2 296.4 L223.2 296.3 L224.2 296.1 L225.2 296.0 L226.2 295.8 L227.2 295.7 L228.2 295.5 L229.2 295.3 L230.2 295.2 L231.2 295.0 L232.2 294.8 L233.2 294.6 L234.2 294.5 L235.2 294.3 L236.2 294.3 L237.2 294.4 L238.2 294.4 L239.2 294.4 L240.2 294.4 L241.2 294.4 L242.2 294.2 L243.2 293.9 L244.2 293.7 L245.2 293.5 L246.2 293.4 L247.2 293.2 L248.2 293.2 L249.2 293.3 L250.2 293.5 L251.2 293.7 L252.2 294.0 L253.2 294.3 L254.2 294.8 L255.2 295.3 L256.2 295.7 L257.2 295.9 L258.2 296.0 L259.2 296.0 L260.2 296.1 L261.2 296.1 L262.2 296.0 L263.2 296.0 L264.2 295.9 L265.2 295.9 L266.2 295.8 L267.2 295.7 L268.2 295.6 L269.2 295.6 L270.2 295.6 L271.2 295.6 L272.2 295.6 L273.2 295.7 L274.2 295.8 L275.2 295.8 L276.2 295.9 L277.2 296.0 L278.2 296.1 L279.2 296.2 L280.2 296.3 L281.2 296.4 L282.2 296.5 L283.2 296.7 L284.2 296.8 L285.2 296.9 L286.2 297.0 L287.2 297.0 L288.2 297.1 L289.2 297.2 L290.2 297.3 L291.2 297.3 L292.2 297.4 L293.2 297.4 L294.2 297.5 L295.2 297.5 L296.2 297.6 L297.2 297.6 L298.2 297.6 L299.2 297.7 L300.2 297.7 L301.2 297.7 L302.2 297.7 L303.2 297.7 L304.2 297.7 L305.2 297.6 L306.2 297.5 L307.2 297.5 L308.2 297.4 L309.2 297.3 L310.2 297.2 L311.2 297.1 L312.2 296.9 L313.2 296.7 L314.2 296.2 L315.2 295.7 L316.2 295.2 L317.2 295.0 L318.2 294.8 L319.2 294.8 L320.2 294.9 L321.2 295.0 L322.2 295.1 L323.2 295.2 L324.2 295.4 L325.2 295.5 L326.2 295.7 L327.2 295.9 L328.2 296.0 L329.2 296.2 L330.2 296.4 L331.2 296.6 L332.2 296.7 L333.2 296.9 L334.2 297.1 L335.2 297.3 L336.2 297.5 L337.2 297.7 L338.2 297.8 L339.2 297.9 L340.2 297.9 L341.2 298.0 L342.2 298.0 L343.2 297.9 L344.2 297.6 L345.2 297.3 L346.2 297.0 L347.2 296.6 L348.2 296.2 L349.2 295.9 L350.2 295.7 L351.2 295.8 L352.2 296.0 L353.2 296.2 L354.2 296.5 L355.2 296.8 L356.2 297.1 L357.2 297.3 L358.2 297.6 L359.2 297.7 L360.2 297.7 L361.2 297.5 L362.2 297.2 L363.2 296.9 L364.2 296.6 L365.2 296.4 L366.2 296.1 L367.2 295.9 L368.2 295.8 L369.2 295.9 L370.2 296.1 L371.2 296.3 L372.2 296.5 L373.2 296.8 L374.2 297.1 L375.2 297.4 L376.2 297.6 L377.2 297.9 L378.2 298.1 L379.2 298.3 L380.2 298.4 L381.2 298.5 L382.2 298.6 L383.2 298.7 L384.2 298.8 L385.2 298.9 L386.2 298.9 L387.2 299.0 L388.2 299.1 L389.2 299.1 L390.2 299.2 L391.2 299.3 L392.2 299.3 L393.2 299.4 L394.2 299.4 L395.2 299.4 L396.2 299.4 L397.2 299.4 L398.2 299.4 L399.2 299.3 L400.2 299.2 L401.2 298.8 L402.2 298.4 L403.2 298.0 L404.2 297.8 L405.2 297.8 L406.2 298.0 L407.2 298.4 L408.2 298.7 L409.2 299.1 L410.2 299.5 L411.2 299.9 L412.2 300.2 L413.2 300.6 L414.2 301.0 L415.2 301.4 L416.2 301.8 L417.2 302.2 L418.2 302.3 L419.2 302.1 L420.2 301.5 L421.2 300.9 L422.2 300.3 L423.2 299.6 L424.2 299.1 L425.2 298.6 L426.2 298.2 L427.2 297.8 L428.2 297.6 L429.2 297.4 L430.2 297.4 L431.2 297.6 L432.2 297.7 L433.2 297.9 L434.2 298.2 L435.2 298.4 L436.2 298.6 L437.2 298.8 L438.2 298.9 L439.2 298.9 L440.2 298.9 L441.2 298.8 L442.2 298.6 L443.2 298.5 L444.2 298.4 L445.2 298.3 L446.2 298.1 L447.2 298.0 L448.2 297.9 L449.2 297.8 L450.2 297.8 L451.2 297.8 L452.2 297.8 L453.2 297.9 L454.2 298.0 L455.2 298.1 L456.2 298.2 L457.2 298.4 L458.2 298.5 L459.2 298.7 L460.2 298.8 L461.2 299.0 L462.2 299.1 L463.2 299.2 L464.2 299.3 L465.2 299.4 L466.2 299.5 L467.2 299.5 L468.2 299.4 L469.2 299.3 L470.2 299.1 L471.2 299.0 L472.2 298.8 L473.2 298.7 L474.2 298.5 L475.2 298.4 L476.2 298.2 L477.2 298.2 L478.2 298.1 L479.2 298.1 L480.2 298.2 L481.2 298.4 L482.2 298.6 L483.2 298.8 L484.2 299.0 L485.2 299.3 L486.2 299.5 L487.2 299.8 L488.2 299.9 L489.2 300.1 L490.2 300.3 L491.2 300.4 L492.2 300.6 L493.2 300.7 L494.2 300.9 L495.2 301.1 L496.2 301.4 L497.2 301.7 L498.2 302.1 L499.2 302.4 L500.2 302.7 L501.2 303.1 L502.2 303.4 L503.2 303.7 L504.2 303.9 L505.2 304.1 L506.2 304.3 L507.2 304.5 L508.2 304.6 L509.2 304.7 L510.2 304.8 L511.2 304.9 L512.2 305.1 L513.2 305.1 L514.2 304.9 L515.2 304.5 L516.2 304.0 L517.2 303.6 L518.2 303.1 L519.2 302.7 L520.2 302.3 L521.2 302.3 L522.2 302.4 L523.2 302.5 L524.2 302.7 L525.2 302.8 L526.2 302.9 L527.2 303.0 L528.2 303.0 L529.2 302.9 L530.2 302.8 L531.2 302.6 L532.2 302.4 L533.2 302.2 L534.2 301.9 L535.2 301.7 L536.2 301.3 L537.2 300.9 L537.3 300.9" stroke="#ff0000" stroke-width="3.0"/>
<path d="M33.2 6.2 L34.2 6.2 L35.2 6.2 L36.2 6.2 L37.2 6.2 L38.2 6.2 L39.2 6.2 L40.2 6.2 L41.2 6.2 L42.2 6.7 L43.2 8.6 L44.2 12.9 L45.2 19.0 L46.2 26.1 L47.2 32.8 L48.2 38.8 L49.2 44.7 L50.2 50.7 L51.2 57.3 L52.2 62.8 L53.2 67.7 L54.2 75.2 L55.2 82.2 L56.2 88.1 L57.2 91.5 L58.2 93.1 L59.2 94.5 L60.2 96.9 L61.2 100.0 L62.2 104.0 L63.2 112.2 L64.2 117.9 L65.2 121.9 L66.2 123.9 L67.2 125.2 L68.2 128.1 L69.2 133.0 L70.2 138.0 L71.2 141.5 L72.2 144.2 L73.2 147.1 L74.2 149.9 L75.2 153.6 L76.2 159.6 L77.2 166.4 L78.2 173.3 L79.2 180.0 L80.2 185.7 L81.2 190.6 L82.2 195.1 L83.2 199.5 L84.2 203.7 L85.2 207.8 L86.2 212.3 L87.2 218.1 L88.2 227.5 L89.2 230.9 L90.2 233.1 L91.2 235.2 L92.2 237.5 L93.2 240.2 L94.2 242.8 L95.2 245.6 L96.2 249.6 L97.2 252.8 L98.2 254.9 L99.2 256.7 L100.2 258.2 L101.2 259.4 L102.2 260.5 L103.2 261.5 L104.2 262.6 L105.2 263.7 L106.2 264.8 L107.2 265.8 L108.2 266.9 L109.2 267.9 L110.2 269.0 L111.2 270.0 L112.2 271.1 L113.2 272.1 L114.2 273.1 L115.2 274.0 L116.2 274.9 L117.2 275.7 L118.2 276.5 L119.2 277.2 L120.2 277.8 L121.2 278.3 L122.2 278.8 L123.2 279.2 L124.2 279.6 L125.2 279.9 L126.2 280.2 L127.2 280.6 L128.2 280.9 L129.2 281.2 L130.2 281.6 L131.2 281.9 L132.2 282.2 L133.2 282.5 L134.2 282.8 L135.2 283.0 L136.2 283.3 L137.2 283.6 L138.2 283.8 L139.2 284.1 L140.2 284.6 L141.2 285.3 L142.2 286.1 L143.2 286.9 L144.2 287.8 L145.2 288.6 L146.2 289.2 L147.2 289.8 L148.2 290.2 L149.2 290.5 L150.2 290.7 L151.2 290.9 L152.2 291.0 L153.2 291.1 L154.2 291.1 L155.2 291.0 L156.2 290.8 L157.2 290.5 L158.2 290.1 L159.2 289.6 L160.2 289.3 L161.2 289.3 L162.2 289.5 L163.2 289.8 L164.2 290.5 L165.2 291.2 L166.2 291.6 L167.2 291.6 L168.2 291.5 L169.2 291.1 L170.2 290.7 L171.2 290.2 L172.2 289.8 L173.2 289.5 L174.2 289.1 L175.2 288.8 L176.2 288.5 L177.2 288.3 L178.2 288.1 L179.2 288.0 L180.2 288.2 L181.2 288.6 L182.2 289.2 L183.2 289.8 L184.2 290.3 L185.2 290.8 L186.2 291.3 L187.2 291.6 L188.2 291.9 L189.2 292.2 L190.2 292.4 L191.2 292.6 L192.2 292.7 L193.2 292.9 L194.2 293.0 L195.2 293.1 L196.2 292.9 L197.2 292.6 L198.2 292.3 L199.2 292.0 L200.2 291.8 L201.2 291.5 L202.2 291.3 L203.2 291.1 L204.2 291.1 L205.2 291.1 L206.2 291.1 L207.2 291.1 L208.2 291.1 L209.2 291.2 L210.2 291.3 L211.2 291.5 L212.2 291.9 L213.2 292.4 L214.2 293.1 L215.2 293.9 L216.2 294.9 L217.2 295.5 L218.2 295.8 L219.2 295.8 L220.2 295.8 L221.2 295.7 L222.2 295.5 L223.2 295.4 L224.2 295.2 L225.2 295.1 L226.2 294.9 L227.2 294.8 L228.2 294.6 L229.2 294.4 L230.2 294.3 L231.2 294.1 L232.2 293.9 L233.2 293.8 L234.2 293.6 L235.2 293.4 L236.2 293.4 L237.2 293.5 L238.2 293.5 L239.2 293.6 L240.2 293.6 L241.2 293.5 L242.2 293.3 L243.2 293.0 L244.2 292.8 L245.2 292.6 L246.2 292.5 L247.2 292.3 L248.2 292.3 L249.2 292.4 L250.2 292.6 L251.2 292.8 L252.2 293.1 L253.2 293.5 L254.2 294.0 L255.2 294.5 L256.2 294.9 L257.2 295.1 L258.2 295.2 L259.2 295.2 L260.2 295.3 L261.2 295.3 L262.2 295.3 L263.2 295.2 L264.2 295.2 L265.2 295.1 L266.2 295.0 L267.2 294.9 L268.2 294.8 L269.2 294.8 L270.2 294.8 L271.2 294.8 L272.2 294.7 L273.2 294.7 L274.2 294.7 L275.2 294.7 L276.2 294.8 L277.2 294.8 L278.2 294.8 L279.2 294.8 L280.2 294.9 L281.2 294.9 L282.2 295.0 L283.2 295.1 L284.2 295.1 L285.2 295.2 L286.2 295.3 L287.2 295.3 L288.2 295.4 L289.2 295.4 L290.2 295.4 L291.2 295.5 L292.2 295.5 L293.2 295.5 L294.2 295.5 L295.2 295.5 L296.2 295.6 L297.2 295.6 L298.2 295.6 L299.2 295.6 L300.2 295.5 L301.2 295.5 L302.2 295.5 L303.2 295.4 L304.2 295.4 L305.2 295.3 L306.2 295.2 L307.2 295.1 L308.2 295.0 L309.2 294.8 L310.2 294.7 L311.2 294.6 L312.2 294.4 L313.2 294.2 L314.2 293.7 L315.2 293.1 L316.2 292.7 L317.2 292.4 L318.2 292.2 L319.2 292.2 L320.2 292.3 L321.2 292.4 L322.2 292.5 L323.2 292.6 L324.2 292.8 L325.2 292.9 L326.2 293.1 L327.2 293.3 L328.2 293.4 L329.2 293.6 L330.2 293.8 L331.2 294.0 L332.2 294.2 L333.2 294.3 L334.2 294.5 L335.2 294.7 L336.2 294.9 L337.2 295.1 L338.2 295.2 L339.2 295.3 L340.2 295.3 L341.2 295.4 L342.2 295.4 L343.2 295.3 L344.2 295.1 L345.2 294.8 L346.2 294.5 L347.2 294.1 L348.2 293.8 L349.2 293.5 L350.2 293.4 L351.2 293.4 L352.2 293.7 L353.2 294.0 L354.2 294.4 L355.2 294.7 L356.2 295.0 L357.2 295.3 L358.2 295.7 L359.2 295.8 L360.2 295.8 L361.2 295.7 L362.2 295.4 L363.2 295.2 L364.2 295.0 L365.2 294.7 L366.2 294.5 L367.2 294.3 L368.2 294.2 L369.2 294.2 L370.2 294.4 L371.2 294.6 L372.2 294.9 L373.2 295.1 L374.2 295.4 L375.2 295.7 L376.2 296.0 L377.2 296.3 L378.2 296.5 L379.2 296.6 L380.2 296.8 L381.2 296.9 L382.2 297.0 L383.2 297.1 L384.2 297.2 L385.2 297.3 L386.2 297.4 L387.2 297.4 L388.2 297.5 L389.2 297.6 L390.2 297.6 L391.2 297.7 L392.2 297.7 L393.2 297.8 L394.2 297.8 L395.2 297.8 L396.2 297.9 L397.2 297.9 L398.2 297.8 L399.2 297.7 L400.2 297.6 L401.2 297.2 L402.2 296.7 L403.2 296.4 L404.2 296.2 L405.2 296.1 L406.2 296.4 L407.2 296.7 L408.2 297.1 L409.2 297.5 L410.2 297.9 L411.2 298.3 L412.2 298.6 L413.2 299.0 L414.2 299.4 L415.2 299.8 L416.2 300.2 L417.2 300.6 L418.2 300.8 L419.2 300.5 L420.2 299.9 L421.2 299.3 L422.2 298.6 L423.2 298.0 L424.2 297.4 L425.2 296.9 L426.2 296.5 L427.2 296.1 L428.2 295.8 L429.2 295.7 L430.2 295.7 L431.2 295.8 L432.2 296.0 L433.2 296.2 L434.2 296.4 L435.2 296.7 L436.2 296.9 L437.2 297.1 L438.2 297.2 L439.2 297.2 L440.2 297.1 L441.2 297.0 L442.2 296.9 L443.2 296.8 L444.2 296.6 L445.2 296.5 L446.2 296.4 L447.2 296.2 L448.2 296.1 L449.2 296.0 L450.2 296.0 L451.2 296.0 L452.2 296.0 L453.2 296.1 L454.2 296.2 L455.2 296.3 L456.2 296.4 L457.2 296.5 L458.2 296.7 L459.2 296.9 L460.2 297.0 L461.2 297.2 L462.2 297.3 L463.2 297.4 L464.2 297.5 L465.2 297.6 L466.2 297.7 L467.2 297.6 L468.2 297.6 L469.2 297.4 L470.2 297.3 L471.2 297.1 L472.2 297.0 L473.2 296.8 L474.2 296.6 L475.2 296.5 L476.2 296.3 L477.2 296.2 L478.2 296.2 L479.2 296.2 L480.2 296.3 L481.2 296.5 L482.2 296.7 L483.2 296.9 L484.2 297.1 L485.2 297.4 L486.2 297.6 L487.2 297.9 L488.2 298.0 L489.2 298.2 L490.2 298.4 L491.2 298.5 L492.2 298.7 L493.2 298.8 L494.2 299.0 L495.2 299.2 L496.2 299.5 L497.2 299.8 L498.2 300.2 L499.2 300.5 L500.2 300.9 L501.2 301.2 L502.2 301.5 L503.2 301.8 L504.2 302.1 L505.2 302.3 L506.2 302.5 L507.2 302.6 L508.2 302.8 L509.2 302.9 L510.2 303.0 L511.2 303.1 L512.2 303.2 L513.2 303.3 L514.2 303.0 L515.2 302.6 L516.2 302.1 L517.2 301.7 L518.2 301.2 L519.2 300.8 L520.2 300.4 L521.2 300.3 L522.2 300.4 L523.2 300.6 L524.2 300.7 L525.2 300.9 L526.2 301.0 L527.2 301.0 L528.2 301.0 L529.2 300.9 L530.2 300.8 L531.2 300.6 L532.2 300.4 L533.2 300.2 L534.2 299.9 L535.2 299.6 L536.2 299.3 L537.2 298.9 L537.3 298.9" stroke="#0000ff" stroke-width="3.0"/>
<path d="M33.2 6.2 L34.2 6.2 L35.2 6.2 L36.2 6.2 L37.2 6.2 L38.2 6.2 L39.2 6.2 L40.2 6.2 L41.2 6.2 L42.2 6.7 L43.2 8.6 L44.2 12.9 L45.2 19.0 L46.2 26.1 L47.2 32.8 L48.2 38.8 L49.2 44.7 L50.2 50.7 L51.2 57.3 L52.2 62.8 L53.2 67.7 L54.2 75.2 L55.2 82.2 L56.2 88.1 L57.2 91.5 L58.2 93.1 L59.2 94.5 L60.2 96.9 L61.2 100.0 L62.2 104.0 L63.2 112.2 L64.2 117.9 L65.2 121.9 L66.2 123.9 L67.2 125.2 L68.2 128.1 L69.2 133.0 L70.2 138.0 L71.2 141.5 L72.2 144.2 L73.2 147.1 L74.2 149.9 L75.2 153.6 L76.2 159.6 L77.2 166.4 L78.2 173.3 L79.2 180.0 L80.2 185.7 L81.2 190.6 L82.2 195.1 L83.2 199.5 L84.2 203.7 L85.2 207.8 L86.2 212.3 L87.2 218.1 L88.2 227.5 L89.2 230.9 L90.2 233.1 L91.2 235.2 L92.2 237.5 L93.2 240.2 L94.2 242.8 L95.2 245.6 L96.2 249.4 L97.2 252.5 L98.2 254.6 L99.2 256.3 L100.2 257.7 L101.2 258.8 L102.2 259.8 L103.2 260.8 L104.2 261.8 L105.2 262.8 L106.2 263.8 L107.2 264.8 L108.2 265.8 L109.2 266.8 L110.2 267.9 L111.2 268.9 L112.2 269.9 L113.2 270.9 L114.2 271.9 L115.2 272.8 L116.2 273.7 L117.2 274.5 L118.2 275.3 L119.2 276.0 L120.2 276.6 L121.2 277.2 L122.2 277.6 L123.2 278.0 L124.2 278.4 L125.2 278.6 L126.2 278.9 L127.2 279.2 L128.2 279.4 L129.2 279.7 L130.2 280.0 L131.2 280.4 L132.2 280.7 L133.2 281.0 L134.2 281.3 L135.2 281.5 L136.2 281.8 L137.2 282.0 L138.2 282.3 L139.2 282.6 L140.2 283.1 L141.2 283.8 L142.2 284.6 L143.2 285.5 L144.2 286.3 L145.2 287.1 L146.2 287.8 L147.2 288.3 L148.2 288.7 L149.2 289.0 L150.2 289.3 L151.2 289.4 L152.2 289.6 L153.2 289.6 L154.2 289.6 L155.2 289.5 L156.2 289.3 L157.2 289.0 L158.2 288.6 L159.2 288.1 L160.2 287.8 L161.2 287.8 L162.2 288.0 L163.2 288.3 L164.2 288.9 L165.2 289.7 L166.2 290.1 L167.2 290.1 L168.2 289.9 L169.2 289.6 L170.2 289.1 L171.2 288.7 L172.2 288.3 L173.2 287.9 L174.2 287.6 L175.2 287.2 L176.2 286.9 L177.2 286.7 L178.2 286.4 L179.2 286.4 L180.2 286.6 L181.2 286.9 L182.2 287.5 L183.2 288.1 L184.2 288.7 L185.2 289.2 L186.2 289.6 L187.2 290.0 L188.2 290.3 L189.2 290.5 L190.2 290.7 L191.2 290.9 L192.2 291.1 L193.2 291.2 L194.2 291.3 L195.2 291.4 L196.2 291.2 L197.2 290.9 L198.2 290.6 L199.2 290.3 L200.2 290.0 L201.2 289.7 L202.2 289.5 L203.2 289.3 L204.2 289.3 L205.2 289.3 L206.2 289.2 L207.2 289.2 L208.2 289.3 L209.2 289.3 L210.2 289.4 L211.2 289.6 L212.2 290.0 L213.2 290.6 L214.2 291.2 L215.2 292.1 L216.2 293.0 L217.2 293.6 L218.2 293.9 L219.2 294.0 L220.2 293.9 L221.2 293.8 L222.2 293.6 L223.2 293.5 L224.2 293.3 L225.2 293.2 L226.2 293.0 L227.2 292.8 L228.2 292.7 L229.2 292.5 L230.2 292.3 L231.2 292.1 L232.2 291.9 L233.2 291.7 L234.2 291.6 L235.2 291.4 L236.2 291.4 L237.2 291.5 L238.2 291.5 L239.2 291.5 L240.2 291.5 L241.2 291.4 L242.2 291.2 L243.2 290.9 L244.2 290.7 L245.2 290.5 L246.2 290.3 L247.2 290.2 L248.2 290.2 L249.2 290.3 L250.2 290.4 L251.2 290.7 L252.2 290.9 L253.2 291.3 L254.2 291.8 L255.2 292.3 L256.2 292.7 L257.2 292.9 L258.2 293.0 L259.2 293.0 L260.2 293.0 L261.2 293.0 L262.2 292.9 L263.2 292.9 L264.2 292.8 L265.2 292.7 L266.2 292.6 L267.2 292.4 L268.2 292.3 L269.2 292.3 L270.2 292.2 L271.2 292.2 L272.2 292.3 L273.2 292.3 L274.2 292.4 L275.2 292.4 L276.2 292.5 L277.2 292.5 L278.2 292.6 L279.2 292.7 L280.2 292.8 L281.2 292.9 L282.2 293.0 L283.2 293.1 L284.2 293.2 L285.2 293.3 L286.2 293.3 L287.2 293.4 L288.2 293.5 L289.2 293.5 L290.2 293.6 L291.2 293.6 L292.2 293.6 L293.2 293.7 L294.2 293.7 L295.2 293.7 L296.2 293.8 L297.2 293.8 L298.2 293.8 L299.2 293.8 L300.2 293.8 L301.2 293.8 L302.2 293.8 L303.2 293.8 L304.2 293.7 L305.2 293.6 L306.2 293.6 L307.2 293.5 L308.2 293.4 L309.2 293.2 L310.2 293.1 L311.2 293.0 L312.2 292.8 L313.2 292.6 L314.2 292.1 L315.2 291.5 L316.2 291.1 L317.2 290.8 L318.2 290.6 L319.2 290.6 L320.2 290.7 L321.2 290.8 L322.2 290.9 L323.2 291.1 L324.2 291.2 L325.2 291.4 L326.2 291.6 L327.2 291.7 L328.2 291.9 L329.2 292.1 L330.2 292.3 L331.2 292.5 L332.2 292.7 L333.2 292.9 L334.2 293.1 L335.2 293.3 L336.2 293.5 L337.2 293.7 L338.2 293.8 L339.2 293.9 L340.2 294.0 L341.2 294.0 L342.2 294.0 L343.2 293.9 L344.2 293.7 L345.2 293.4 L346.2 293.1 L347.2 292.7 L348.2 292.4 L349.2 292.1 L350.2 291.9 L351.2 292.0 L352.2 292.3 L353.2 292.6 L354.2 292.9 L355.2 293.3 L356.2 293.6 L357.2 293.9 L358.2 294.2 L359.2 294.4 L360.2 294.4 L361.2 294.2 L362.2 294.0 L363.2 293.8 L364.2 293.5 L365.2 293.3 L366.2 293.0 L367.2 292.8 L368.2 292.7 L369.2 292.7 L370.2 292.9 L371.2 293.1 L372.2 293.4 L373.2 293.7 L374.2 294.0 L375.2 294.3 L376.2 294.5 L377.2 294.8 L378.2 295.0 L379.2 295.2 L380.2 295.3 L381.2 295.4 L382.2 295.5 L383.2 295.6 L384.2 295.7 L385.2 295.8 L386.2 295.9 L387.2 296.0 L388.2 296.0 L389.2 296.1 L390.2 296.2 L391.2 296.2 L392.2 296.3 L393.2 296.3 L394.2 296.3 L395.2 296.4 L396.2 296.4 L397.2 296.4 L398.2 296.3 L399.2 296.3 L400.2 296.1 L401.2 295.7 L402.2 295.2 L403.2 294.9 L404.2 294.7 L405.2 294.6 L406.2 294.8 L407.2 295.2 L408.2 295.6 L409.2 296.0 L410.2 296.4 L411.2 296.8 L412.2 297.1 L413.2 297.5 L414.2 297.9 L415.2 298.3 L416.2 298.8 L417.2 299.1 L418.2 299.3 L419.2 299.0 L420.2 298.4 L421.2 297.7 L422.2 297.1 L423.2 296.5 L424.2 295.9 L425.2 295.4 L426.2 294.9 L427.2 294.5 L428.2 294.3 L429.2 294.1 L430.2 294.1 L431.2 294.2 L432.2 294.4 L433.2 294.6 L434.2 294.8 L435.2 295.1 L436.2 295.3 L437.2 295.5 L438.2 295.6 L439.2 295.6 L440.2 295.6 L441.2 295.5 L442.2 295.3 L443.2 295.2 L444.2 295.0 L445.2 294.9 L446.2 294.8 L447.2 294.6 L448.2 294.5 L449.2 294.4 L450.2 294.4 L451.2 294.4 L452.2 294.4 L453.2 294.4 L454.2 294.5 L455.2 294.7 L456.2 294.8 L457.2 294.9 L458.2 295.1 L459.2 295.3 L460.2 295.4 L461.2 295.6 L462.2 295.7 L463.2 295.8 L464.2 295.9 L465.2 296.0 L466.2 296.1 L467.2 296.0 L468.2 296.0 L469.2 295.8 L470.2 295.7 L471.2 295.5 L472.2 295.3 L473.2 295.2 L474.2 295.0 L475.2 294.8 L476.2 294.7 L477.2 294.6 L478.2 294.5 L479.2 294.5 L480.2 294.6 L481.2 294.8 L482.2 295.0 L483.2 295.2 L484.2 295.5 L485.2 295.7 L486.2 296.0 L487.2 296.2 L488.2 296.4 L489.2 296.6 L490.2 296.7 L491.2 296.9 L492.2 297.0 L493.2 297.2 L494.2 297.3 L495.2 297.6 L496.2 297.9 L497.2 298.2 L498.2 298.5 L499.2 298.9 L500.2 299.2 L501.2 299.6 L502.2 299.9 L503.2 300.2 L504.2 300.4 L505.2 300.7 L506.2 300.9 L507.2 301.0 L508.2 301.2 L509.2 301.3 L510.2 301.4 L511.2 301.5 L512.2 301.6 L513.2 301.7 L514.2 301.4 L515.2 301.0 L516.2 300.5 L517.2 300.0 L518.2 299.6 L519.2 299.1 L520.2 298.7 L521.2 298.6 L522.2 298.8 L523.2 298.9 L524.2 299.0 L525.2 299.2 L526.2 299.3 L527.2 299.3 L528.2 299.3 L529.2 299.3 L530.2 299.1 L531.2 298.9 L532.2 298.7 L533.2 298.5 L534.2 298.2 L535.2 297.9 L536.2 297.6 L537.2 297.2 L537.3 297.2" stroke="#ff00ff" stroke-width="3.0" stroke-dasharray="7.4 1.9 4 1.9"/>
<path d="M33.2 6.2 L34.2 6.2 L35.2 6.2 L36.2 6.2 L37.2 6.2 L38.2 6.2 L39.2 6.2 L40.2 6.2 L41.2 6.2 L42.2 6.7 L43.2 8.6 L44.2 12.9 L45.2 19.0 L46.2 26.1 L47.2 32.8 L48.2 38.8 L49.2 44.7 L50.2 50.7 L51.2 57.3 L52.2 62.8 L53.2 67.7 L54.2 75.2 L55.2 82.2 L56.2 88.1 L57.2 91.5 L58.2 93.1 L59.2 94.5 L60.2 96.9 L61.2 100.0 L62.2 104.0 L63.2 112.2 L64.2 117.9 L65.2 121.9 L66.2 123.9 L67.2 125.2 L68.2 128.1 L69.2 133.0 L70.2 138.0 L71.2 141.5 L72.2 144.2 L73.2 147.1 L74.2 149.9 L75.2 153.6 L76.2 159.6 L77.2 166.4 L78.2 173.3 L79.2 180.0 L80.2 185.7 L81.2 190.6 L82.2 195.1 L83.2 199.5 L84.2 203.7 L85.2 207.8 L86.2 212.3 L87.2 218.1 L88.2 227.5 L89.2 230.9 L90.2 233.1 L91.2 235.2 L92.2 237.5 L93.2 240.2 L94.2 242.8 L95.2 245.6 L96.2 249.0 L97.2 252.0 L98.2 254.0 L99.2 255.7 L100.2 256.9 L101.2 257.8 L102.2 258.6 L103.2 259.4 L104.2 260.2 L105.2 261.0 L106.2 261.7 L107.2 262.5 L108.2 263.4 L109.2 264.2 L110.2 265.0 L111.2 265.8 L112.2 266.6 L113.2 267.5 L114.2 268.5 L115.2 269.6 L116.2 270.7 L117.2 271.7 L118.2 272.5 L119.2 273.2 L120.2 273.8 L121.2 274.3 L122.2 274.7 L123.2 275.1 L124.2 275.4 L125.2 275.6 L126.2 275.8 L127.2 275.9 L128.2 276.1 L129.2 276.3 L130.2 276.6 L131.2 276.9 L132.2 277.2 L133.2 277.5 L134.2 277.8 L135.2 278.0 L136.2 278.2 L137.2 278.5 L138.2 278.7 L139.2 279.0 L140.2 279.5 L141.2 280.3 L142.2 281.0 L143.2 281.9 L144.2 282.8 L145.2 283.6 L146.2 284.2 L147.2 284.8 L148.2 285.1 L149.2 285.4 L150.2 285.6 L151.2 285.8 L152.2 285.9 L153.2 285.9 L154.2 285.9 L155.2 285.7 L156.2 285.5 L157.2 285.2 L158.2 284.8 L159.2 284.3 L160.2 284.0 L161.2 283.9 L162.2 284.1 L163.2 284.5 L164.2 285.2 L165.2 286.0 L166.2 286.3 L167.2 286.4 L168.2 286.2 L169.2 285.9 L170.2 285.4 L171.2 284.9 L172.2 284.5 L173.2 284.1 L174.2 283.8 L175.2 283.4 L176.2 283.1 L177.2 282.8 L178.2 282.6 L179.2 282.6 L180.2 282.7 L181.2 283.1 L182.2 283.7 L183.2 284.4 L184.2 284.9 L185.2 285.4 L186.2 285.9 L187.2 286.3 L188.2 286.6 L189.2 286.8 L190.2 287.0 L191.2 287.2 L192.2 287.4 L193.2 287.5 L194.2 287.7 L195.2 287.7 L196.2 287.5 L197.2 287.2 L198.2 286.9 L199.2 286.6 L200.2 286.3 L201.2 286.0 L202.2 285.7 L203.2 285.5 L204.2 285.5 L205.2 285.5 L206.2 285.4 L207.2 285.5 L208.2 285.5 L209.2 285.5 L210.2 285.6 L211.2 285.8 L212.2 286.2 L213.2 286.8 L214.2 287.5 L215.2 288.4 L216.2 289.4 L217.2 290.0 L218.2 290.3 L219.2 290.4 L220.2 290.3 L221.2 290.1 L222.2 290.0 L223.2 289.8 L224.2 289.7 L225.2 289.5 L226.2 289.3 L227.2 289.1 L228.2 288.9 L229.2 288.8 L230.2 288.6 L231.2 288.4 L232.2 288.2 L233.2 288.0 L234.2 287.8 L235.2 287.6 L236.2 287.6 L237.2 287.7 L238.2 287.7 L239.2 287.7 L240.2 287.7 L241.2 287.6 L242.2 287.4 L243.2 287.1 L244.2 286.8 L245.2 286.6 L246.2 286.4 L247.2 286.3 L248.2 286.3 L249.2 286.4 L250.2 286.6 L251.2 286.8 L252.2 287.1 L253.2 287.4 L254.2 287.9 L255.2 288.5 L256.2 288.9 L257.2 289.1 L258.2 289.2 L259.2 289.2 L260.2 289.2 L261.2 289.2 L262.2 289.2 L263.2 289.1 L264.2 289.0 L265.2 288.9 L266.2 288.8 L267.2 288.7 L268.2 288.6 L269.2 288.5 L270.2 288.5 L271.2 288.5 L272.2 288.5 L273.2 288.6 L274.2 288.6 L275.2 288.7 L276.2 288.7 L277.2 288.8 L278.2 288.9 L279.2 289.0 L280.2 289.1 L281.2 289.2 L282.2 289.3 L283.2 289.4 L284.2 289.5 L285.2 289.6 L286.2 289.6 L287.2 289.7 L288.2 289.8 L289.2 289.8 L290.2 289.9 L291.2 289.9 L292.2 289.9 L293.2 290.0 L294.2 290.0 L295.2 290.0 L296.2 290.0 L297.2 290.0 L298.2 290.0 L299.2 290.0 L300.2 290.0 L301.2 290.0 L302.2 290.0 L303.2 290.0 L304.2 289.9 L305.2 289.8 L306.2 289.7 L307.2 289.6 L308.2 289.5 L309.2 289.4 L310.2 289.2 L311.2 289.1 L312.2 288.9 L313.2 288.7 L314.2 288.2 L315.2 287.5 L316.2 287.1 L317.2 286.8 L318.2 286.6 L319.2 286.6 L320.2 286.7 L321.2 286.8 L322.2 286.9 L323.2 287.1 L324.2 287.2 L325.2 287.4 L326.2 287.6 L327.2 287.7 L328.2 287.9 L329.2 288.1 L330.2 288.3 L331.2 288.5 L332.2 288.7 L333.2 288.9 L334.2 289.1 L335.2 289.3 L336.2 289.5 L337.2 289.7 L338.2 289.9 L339.2 289.9 L340.2 290.0 L341.2 290.1 L342.2 290.1 L343.2 290.0 L344.2 289.7 L345.2 289.4 L346.2 289.1 L347.2 288.8 L348.2 288.4 L349.2 288.1 L350.2 288.0 L351.2 288.1 L352.2 288.3 L353.2 288.7 L354.2 289.0 L355.2 289.4 L356.2 289.7 L357.2 290.1 L358.2 290.4 L359.2 290.6 L360.2 290.6 L361.2 290.4 L362.2 290.2 L363.2 289.9 L364.2 289.7 L365.2 289.4 L366.2 289.2 L367.2 289.0 L368.2 288.9 L369.2 288.9 L370.2 289.1 L371.2 289.3 L372.2 289.6 L373.2 289.9 L374.2 290.2 L375.2 290.5 L376.2 290.8 L377.2 291.1 L378.2 291.3 L379.2 291.5 L380.2 291.7 L381.2 291.8 L382.2 291.9 L383.2 292.0 L384.2 292.1 L385.2 292.2 L386.2 292.3 L387.2 292.4 L388.2 292.5 L389.2 292.5 L390.2 292.6 L391.2 292.7 L392.2 292.7 L393.2 292.8 L394.2 292.8 L395.2 292.9 L396.2 292.9 L397.2 292.9 L398.2 292.9 L399.2 292.8 L400.2 292.6 L401.2 292.3 L402.2 291.7 L403.2 291.4 L404.2 291.1 L405.2 291.1 L406.2 291.3 L407.2 291.7 L408.2 292.1 L409.2 292.5 L410.2 292.9 L411.2 293.3 L412.2 293.7 L413.2 294.2 L414.2 294.6 L415.2 295.0 L416.2 295.5 L417.2 295.8 L418.2 296.0 L419.2 295.7 L420.2 295.1 L421.2 294.4 L422.2 293.7 L423.2 293.1 L424.2 292.4 L425.2 291.9 L426.2 291.5 L427.2 291.1 L428.2 290.8 L429.2 290.6 L430.2 290.6 L431.2 290.8 L432.2 290.9 L433.2 291.2 L434.2 291.4 L435.2 291.7 L436.2 291.9 L437.2 292.1 L438.2 292.3 L439.2 292.3 L440.2 292.2 L441.2 292.1 L442.2 292.0 L443.2 291.8 L444.2 291.7 L445.2 291.5 L446.2 291.4 L447.2 291.3 L448.2 291.1 L449.2 291.0 L450.2 291.0 L451.2 291.0 L452.2 291.0 L453.2 291.1 L454.2 291.2 L455.2 291.3 L456.2 291.5 L457.2 291.6 L458.2 291.8 L459.2 292.0 L460.2 292.1 L461.2 292.3 L462.2 292.4 L463.2 292.6 L464.2 292.7 L465.2 292.7 L466.2 292.8 L467.2 292.8 L468.2 292.7 L469.2 292.5 L470.2 292.4 L471.2 292.2 L472.2 292.0 L473.2 291.8 L474.2 291.6 L475.2 291.4 L476.2 291.3 L477.2 291.2 L478.2 291.2 L479.2 291.2 L480.2 291.2 L481.2 291.4 L482.2 291.6 L483.2 291.9 L484.2 292.1 L485.2 292.4 L486.2 292.7 L487.2 292.9 L488.2 293.1 L489.2 293.3 L490.2 293.4 L491.2 293.6 L492.2 293.7 L493.2 293.9 L494.2 294.1 L495.2 294.3 L496.2 294.6 L497.2 295.0 L498.2 295.3 L499.2 295.7 L500.2 296.0 L501.2 296.4 L502.2 296.8 L503.2 297.1 L504.2 297.3 L505.2 297.5 L506.2 297.7 L507.2 297.9 L508.2 298.1 L509.2 298.2 L510.2 298.3 L511.2 298.4 L512.2 298.6 L513.2 298.6 L514.2 298.3 L515.2 297.9 L516.2 297.4 L517.2 296.9 L518.2 296.4 L519.2 295.9 L520.2 295.5 L521.2 295.4 L522.2 295.6 L523.2 295.7 L524.2 295.9 L525.2 296.0 L526.2 296.1 L527.2 296.2 L528.2 296.2 L529.2 296.1 L530.2 295.9 L531.2 295.8 L532.2 295.5 L533.2 295.3 L534.2 295.0 L535.2 294.7 L536.2 294.3 L537.2 293.9 L537.3 293.9" stroke="#000000" stroke-width="3.0" stroke-dasharray="7.4 1.9 4 1.9"/>
<path d="M33.2 6.2 L34.2 6.2 L35.2 6.2 L36.2 6.2 L37.2 6.2 L38.2 6.2 L39.2 6.2 L40.2 6.2 L41.2 6.2 L42.2 6.7 L43.2 8.6 L44.2 12.9 L45.2 19.0 L46.2 26.1 L47.2 32.8 L48.2 38.8 L49.2 44.7 L50.2 50.7 L51.2 57.3 L52.2 62.8 L53.2 67.7 L54.2 75.2 L55.2 82.2 L56.2 88.1 L57.2 91.5 L58.2 93.1 L59.2 94.5 L60.2 96.9 L61.2 100.0 L62.2 104.0 L63.2 112.2 L64.2 117.9 L65.2 121.9 L66.2 123.9 L67.2 125.2 L68.2 128.1 L69.2 133.0 L70.2 138.0 L71.2 141.5 L72.2 144.2 L73.2 147.1 L74.2 149.9 L75.2 153.6 L76.2 159.6 L77.2 166.4 L78.2 173.3 L79.2 180.0 L80.2 185.7 L81.2 190.6 L82.2 195.1 L83.2 199.5 L84.2 203.7 L85.2 207.8 L86.2 212.3 L87.2 218.1 L88.2 227.5 L89.2 230.9 L90.2 233.1 L91.2 235.2 L92.2 237.5 L93.2 240.2 L94.2 242.9 L95.2 245.5 L96.2 248.2 L97.2 250.8 L98.2 252.8 L99.2 254.2 L100.2 255.0 L101.2 255.7 L102.2 256.2 L103.2 256.7 L104.2 257.1 L105.2 257.5 L106.2 258.1 L107.2 258.7 L108.2 259.4 L109.2 260.1 L110.2 260.8 L111.2 261.5 L112.2 262.2 L113.2 263.0 L114.2 263.8 L115.2 264.6 L116.2 265.5 L117.2 266.3 L118.2 267.0 L119.2 267.7 L120.2 268.2 L121.2 268.8 L122.2 269.2 L123.2 269.6 L124.2 270.0 L125.2 270.3 L126.2 270.4 L127.2 270.5 L128.2 270.6 L129.2 270.7 L130.2 270.9 L131.2 271.2 L132.2 271.5 L133.2 271.8 L134.2 272.0 L135.2 272.2 L136.2 272.4 L137.2 272.6 L138.2 272.8 L139.2 273.1 L140.2 273.6 L141.2 274.3 L142.2 275.1 L143.2 276.0 L144.2 276.9 L145.2 277.7 L146.2 278.4 L147.2 278.9 L148.2 279.3 L149.2 279.5 L150.2 279.7 L151.2 279.8 L152.2 279.8 L153.2 279.8 L154.2 279.7 L155.2 279.6 L156.2 279.3 L157.2 279.0 L158.2 278.6 L159.2 278.1 L160.2 277.7 L161.2 277.7 L162.2 278.0 L163.2 278.4 L164.2 279.2 L165.2 280.1 L166.2 280.6 L167.2 280.7 L168.2 280.5 L169.2 280.2 L170.2 279.7 L171.2 279.2 L172.2 278.8 L173.2 278.4 L174.2 278.0 L175.2 277.6 L176.2 277.3 L177.2 277.1 L178.2 276.9 L179.2 276.8 L180.2 277.0 L181.2 277.5 L182.2 278.1 L183.2 278.8 L184.2 279.4 L185.2 279.9 L186.2 280.4 L187.2 280.8 L188.2 281.2 L189.2 281.4 L190.2 281.7 L191.2 281.9 L192.2 282.1 L193.2 282.2 L194.2 282.4 L195.2 282.4 L196.2 282.2 L197.2 281.8 L198.2 281.5 L199.2 281.1 L200.2 280.8 L201.2 280.5 L202.2 280.1 L203.2 280.0 L204.2 279.9 L205.2 279.9 L206.2 279.8 L207.2 279.9 L208.2 279.9 L209.2 279.9 L210.2 280.1 L211.2 280.3 L212.2 280.7 L213.2 281.4 L214.2 282.1 L215.2 283.1 L216.2 284.1 L217.2 284.8 L218.2 285.1 L219.2 285.2 L220.2 285.1 L221.2 284.9 L222.2 284.7 L223.2 284.5 L224.2 284.4 L225.2 284.2 L226.2 284.0 L227.2 283.7 L228.2 283.5 L229.2 283.3 L230.2 283.1 L231.2 282.9 L232.2 282.7 L233.2 282.4 L234.2 282.2 L235.2 282.1 L236.2 282.0 L237.2 282.1 L238.2 282.1 L239.2 282.1 L240.2 282.1 L241.2 282.0 L242.2 281.7 L243.2 281.4 L244.2 281.1 L245.2 280.9 L246.2 280.7 L247.2 280.5 L248.2 280.5 L249.2 280.6 L250.2 280.8 L251.2 281.0 L252.2 281.3 L253.2 281.7 L254.2 282.3 L255.2 282.9 L256.2 283.3 L257.2 283.5 L258.2 283.6 L259.2 283.7 L260.2 283.7 L261.2 283.6 L262.2 283.6 L263.2 283.5 L264.2 283.4 L265.2 283.3 L266.2 283.2 L267.2 283.0 L268.2 282.9 L269.2 282.8 L270.2 282.8 L271.2 282.8 L272.2 282.8 L273.2 282.9 L274.2 282.9 L275.2 283.0 L276.2 283.0 L277.2 283.1 L278.2 283.2 L279.2 283.3 L280.2 283.4 L281.2 283.5 L282.2 283.7 L283.2 283.8 L284.2 283.9 L285.2 284.0 L286.2 284.1 L287.2 284.2 L288.2 284.2 L289.2 284.3 L290.2 284.4 L291.2 284.4 L292.2 284.5 L293.2 284.5 L294.2 284.6 L295.2 284.6 L296.2 284.6 L297.2 284.6 L298.2 284.7 L299.2 284.7 L300.2 284.7 L301.2 284.7 L302.2 284.7 L303.2 284.7 L304.2 284.6 L305.2 284.5 L306.2 284.4 L307.2 284.3 L308.2 284.2 L309.2 284.1 L310.2 284.0 L311.2 283.8 L312.2 283.6 L313.2 283.4 L314.2 282.8 L315.2 282.1 L316.2 281.6 L317.2 281.3 L318.2 281.1 L319.2 281.1 L320.2 281.2 L321.2 281.3 L322.2 281.5 L323.2 281.7 L324.2 281.8 L325.2 282.0 L326.2 282.2 L327.2 282.4 L328.2 282.6 L329.2 282.9 L330.2 283.1 L331.2 283.3 L332.2 283.6 L333.2 283.8 L334.2 284.0 L335.2 284.3 L336.2 284.5 L337.2 284.7 L338.2 284.9 L339.2 285.0 L340.2 285.0 L341.2 285.1 L342.2 285.1 L343.2 285.0 L344.2 284.7 L345.2 284.3 L346.2 283.9 L347.2 283.5 L348.2 283.1 L349.2 282.8 L350.2 282.6 L351.2 282.7 L352.2 283.0 L353.2 283.4 L354.2 283.7 L355.2 284.1 L356.2 284.5 L357.2 284.8 L358.2 285.2 L359.2 285.4 L360.2 285.3 L361.2 285.1 L362.2 284.8 L363.2 284.6 L364.2 284.3 L365.2 284.0 L366.2 283.7 L367.2 283.4 L368.2 283.3 L369.2 283.3 L370.2 283.5 L371.2 283.7 L372.2 284.0 L373.2 284.3 L374.2 284.6 L375.2 285.0 L376.2 285.3 L377.2 285.6 L378.2 285.8 L379.2 286.0 L380.2 286.1 L381.2 286.2 L382.2 286.3 L383.2 286.4 L384.2 286.5 L385.2 286.6 L386.2 286.7 L387.2 286.8 L388.2 286.9 L389.2 287.0 L390.2 287.0 L391.2 287.1 L392.2 287.1 L393.2 287.2 L394.2 287.2 L395.2 287.2 L396.2 287.2 L397.2 287.2 L398.2 287.2 L399.2 287.1 L400.2 286.9 L401.2 286.5 L402.2 285.9 L403.2 285.5 L404.2 285.2 L405.2 285.1 L406.2 285.4 L407.2 285.8 L408.2 286.3 L409.2 286.7 L410.2 287.2 L411.2 287.6 L412.2 288.0 L413.2 288.5 L414.2 289.0 L415.2 289.4 L416.2 289.9 L417.2 290.3 L418.2 290.6 L419.2 290.2 L420.2 289.5 L421.2 288.7 L422.2 288.0 L423.2 287.3 L424.2 286.6 L425.2 286.0 L426.2 285.5 L427.2 285.0 L428.2 284.7 L429.2 284.5 L430.2 284.6 L431.2 284.7 L432.2 284.9 L433.2 285.1 L434.2 285.4 L435.2 285.7 L436.2 286.0 L437.2 286.2 L438.2 286.3 L439.2 286.4 L440.2 286.3 L441.2 286.2 L442.2 286.0 L443.2 285.9 L444.2 285.7 L445.2 285.5 L446.2 285.4 L447.2 285.2 L448.2 285.1 L449.2 285.0 L450.2 284.9 L451.2 284.9 L452.2 284.9 L453.2 285.0 L454.2 285.1 L455.2 285.3 L456.2 285.4 L457.2 285.6 L458.2 285.8 L459.2 286.0 L460.2 286.1 L461.2 286.3 L462.2 286.5 L463.2 286.6 L464.2 286.8 L465.2 286.8 L466.2 286.9 L467.2 286.8 L468.2 286.8 L469.2 286.6 L470.2 286.4 L471.2 286.2 L472.2 286.0 L473.2 285.8 L474.2 285.6 L475.2 285.4 L476.2 285.2 L477.2 285.1 L478.2 285.0 L479.2 285.0 L480.2 285.1 L481.2 285.4 L482.2 285.6 L483.2 285.9 L484.2 286.1 L485.2 286.4 L486.2 286.7 L487.2 287.0 L488.2 287.2 L489.2 287.4 L490.2 287.6 L491.2 287.7 L492.2 287.9 L493.2 288.1 L494.2 288.3 L495.2 288.5 L496.2 288.9 L497.2 289.3 L498.2 289.7 L499.2 290.1 L500.2 290.5 L501.2 290.9 L502.2 291.3 L503.2 291.6 L504.2 291.9 L505.2 292.2 L506.2 292.4 L507.2 292.6 L508.2 292.8 L509.2 293.0 L510.2 293.1 L511.2 293.2 L512.2 293.3 L513.2 293.4 L514.2 293.1 L515.2 292.6 L516.2 292.1 L517.2 291.5 L518.2 291.0 L519.2 290.5 L520.2 290.0 L521.2 289.9 L522.2 290.1 L523.2 290.3 L524.2 290.4 L525.2 290.6 L526.2 290.7 L527.2 290.8 L528.2 290.8 L529.2 290.7 L530.2 290.6 L531.2 290.4 L532.2 290.1 L533.2 289.9 L534.2 289.6 L535.2 289.2 L536.2 288.9 L537.2 288.4 L537.3 288.4" stroke="#ff0000" stroke-width="3.0" stroke-dasharray="7.4 1.9 4 1.9"/>
</g>
<g font-family="Liberation Sans, Arial, sans-serif" font-size="10" fill="#262626">
<text x="33.1" y="348.3" text-anchor="middle">0</text>
<text x="96.2" y="348.3" text-anchor="middle">500</text>
<text x="159.2" y="348.3" text-anchor="middle">1000</text>
<text x="222.2" y="348.3" text-anchor="middle">1500</text>
<text x="285.2" y="348.3" text-anchor="middle">2000</text>
<text x="348.2" y="348.3" text-anchor="middle">2500</text>
<text x="411.2" y="348.3" text-anchor="middle">3000</text>
<text x="474.2" y="348.3" text-anchor="middle">3500</text>
<text x="537.2" y="348.3" text-anchor="middle">4000</text>
<text x="30" y="10.7" text-anchor="end">0</text>
<text x="30" y="57.7" text-anchor="end">-5</text>
<text x="30" y="104.8" text-anchor="end">-10</text>
<text x="30" y="151.8" text-anchor="end">-15</text>
<text x="30" y="198.8" text-anchor="end">-20</text>
<text x="30" y="245.9" text-anchor="end">-25</text>
<text x="30" y="292.9" text-anchor="end">-30</text>
<text x="30" y="339.9" text-anchor="end">-35</text>
<text x="285" y="361.8" text-anchor="middle" letter-spacing="0.18">iteration</text>
<text transform="translate(11.7,171.2) rotate(-90)" text-anchor="middle">NMSD(dB)</text>
</g>
<rect x="377" y="17" width="149.70" height="114.80" fill="#fff" stroke="#262626" stroke-width="1.4"/>
<g font-family="Liberation Sans, Arial, sans-serif" font-size="10.1" fill="#000">
<path d="M381 25.5 H419.2" stroke="#00ffff" stroke-width="3.0" stroke-dasharray="7.4 1.9 4 1.9" fill="none"/>
<text x="422.6" y="29.1">APSA(<tspan dx="0.7" font-style="italic" font-family="Liberation Serif, DejaVu Serif, serif" font-size="13">μ</tspan><tspan dx="0.9">=0.012)</tspan></text>
<path d="M381 39.5 H419.2" stroke="#000000" stroke-width="3.0" fill="none"/>
<text x="422.6" y="43.1">MVSS-APSA(<tspan dx="0.7" font-style="italic" font-family="Liberation Serif, DejaVu Serif, serif" font-size="13">μ</tspan><tspan dx="0.9">0=0.5)</tspan></text>
<path d="M381 53.4 H419.2" stroke="#0000ff" stroke-width="3.0" stroke-dasharray="7.4 1.9 4 1.9" fill="none"/>
<text x="422.6" y="57.0">H-APA(<tspan dx="0.7" font-style="italic" font-family="Liberation Serif, DejaVu Serif, serif" font-size="13">μ</tspan><tspan dx="0.9">=0.02)</tspan></text>
<path d="M381 67.3 H419.2" stroke="#ff0000" stroke-width="3.0" fill="none"/>
<text x="422.6" y="70.9">VSS-H-APA(<tspan dx="0.7" font-style="italic" font-family="Liberation Serif, DejaVu Serif, serif" font-size="13">α</tspan><tspan dx="0.9">=0.1)</tspan></text>
<path d="M381 81.3 H419.2" stroke="#0000ff" stroke-width="3.0" fill="none"/>
<text x="422.6" y="84.9">VSS-H-APA(<tspan dx="0.7" font-style="italic" font-family="Liberation Serif, DejaVu Serif, serif" font-size="13">α</tspan><tspan dx="0.9">=0.3)</tspan></text>
<path d="M381 95.2 H419.2" stroke="#ff00ff" stroke-width="3.0" stroke-dasharray="7.4 1.9 4 1.9" fill="none"/>
<text x="422.6" y="98.8">VSS-H-APA(<tspan dx="0.7" font-style="italic" font-family="Liberation Serif, DejaVu Serif, serif" font-size="13">α</tspan><tspan dx="0.9">=0.5)</tspan></text>
<path d="M381 109.2 H419.2" stroke="#000000" stroke-width="3.0" stroke-dasharray="7.4 1.9 4 1.9" fill="none"/>
<text x="422.6" y="112.8">VSS-H-APA(<tspan dx="0.7" font-style="italic" font-family="Liberation Serif, DejaVu Serif, serif" font-size="13">α</tspan><tspan dx="0.9">=0.7)</tspan></text>
<path d="M381 123.1 H419.2" stroke="#ff0000" stroke-width="3.0" stroke-dasharray="7.4 1.9 4 1.9" fill="none"/>
<text x="422.6" y="126.7">VSS-H-APA(<tspan dx="0.7" font-style="italic" font-family="Liberation Serif, DejaVu Serif, serif" font-size="13">α</tspan><tspan dx="0.9">=0.9)</tspan></text>
</g>
</svg>
</body></html>
